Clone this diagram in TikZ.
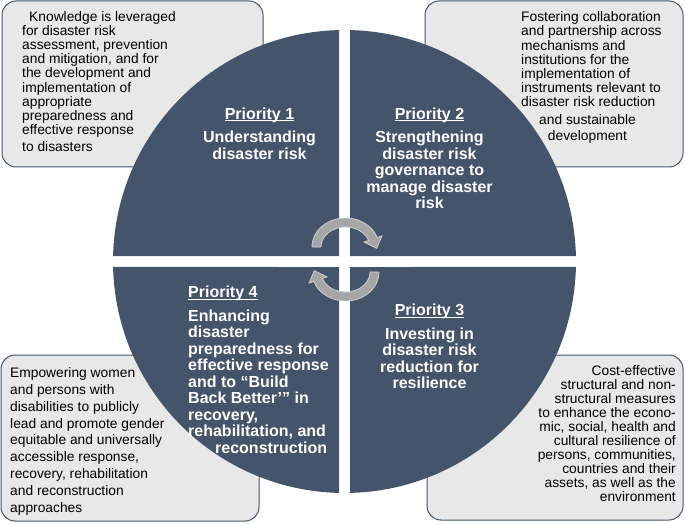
\documentclass[tikz,border=0pt]{standalone}
\usepackage{fontspec}
\setmainfont{Liberation Sans}
\usetikzlibrary{calc}
\definecolor{slate}{HTML}{44546A}
\definecolor{boxgray}{HTML}{E8E8E8}
\definecolor{arrowgray}{HTML}{A6A6A6}
\definecolor{arrowedge}{HTML}{D0D0D0}
\newsavebox\PrioBox
\newcommand\PrioUL[1]{\sbox\PrioBox{#1}\rlap{\rule[-2.2pt]{\wd\PrioBox}{1.3pt}}\usebox\PrioBox}
\newcommand\BoxStrut{\rule{0pt}{10pt}}
\newcommand\QStrut{\rule{0pt}{12pt}}
\begin{document}
\begin{tikzpicture}[x=1pt,y=1pt]
\tikzset{
 infobox/.style={rectangle, rounded corners=14pt, fill=boxgray, draw=slate, line width=1pt, minimum width=258pt, minimum height=166pt, inner sep=0pt},
 boxtext/.style={inner sep=0pt, text=black, font=\fontsize{13.8}{14.2}\selectfont},
 quad/.style={fill=slate},
 qtext/.style={inner sep=0pt, text=white, font=\bfseries\fontsize{16}{16.5}\selectfont},
 cyc/.style={fill=arrowgray, draw=arrowedge, line width=0.8pt}
}
\useasboundingbox (0,0) rectangle (685,523);

% info boxes
\node[infobox, minimum width=261pt] (b1) at (132.5,439) {};
\node[infobox] (b2) at (554,439) {};
\node[infobox] (b3) at (130,85) {};
\node[infobox, minimum width=256pt, minimum height=165pt] (b4) at (555,85.5) {};

% quadrants
\coordinate (O) at (344.5,261.5);
\fill[quad] ($(O)+(5.5,5.5)$) -- ($(O)+(88.6387:231.5)$) arc[start angle=88.6387, end angle=1.3613, radius=231.5] -- cycle;
\fill[quad] ($(O)+(-5.5,5.5)$) -- ($(O)+(91.3613:231.5)$) arc[start angle=91.3613, end angle=178.6387, radius=231.5] -- cycle;
\fill[quad] ($(O)+(-5.5,-5.5)$) -- ($(O)+(181.3613:231.5)$) arc[start angle=181.3613, end angle=268.6387, radius=231.5] -- cycle;
\fill[quad] ($(O)+(5.5,-5.5)$) -- ($(O)+(271.3613:231.5)$) arc[start angle=271.3613, end angle=358.6387, radius=231.5] -- cycle;

% cycle arrows
\begin{scope}[shift={(345.5,276)}]
\path[cyc] (-33.5,0) arc[start angle=180, end angle=19, x radius=33.5, y radius=29] -- (36.4,11.07) -- (31.2,-1.3) -- (18.44,4.89) -- (23.16,6.51) arc[start angle=19, end angle=180, x radius=24.5, y radius=20] -- cycle;
\end{scope}
\begin{scope}[shift={(345.5,251)}, rotate=180]
\path[cyc] (-33.5,0) arc[start angle=180, end angle=19, x radius=33.5, y radius=29] -- (36.4,11.07) -- (31.2,-1.3) -- (18.44,4.89) -- (23.16,6.51) arc[start angle=19, end angle=180, x radius=24.5, y radius=20] -- cycle;
\end{scope}

% box texts
\node[boxtext, anchor=north west, align=left] (t1) at (22,512) {\BoxStrut\hspace*{7pt}Knowledge is leveraged\\for disaster risk\\assessment, prevention\\and mitigation, and for\\the development and\\implementation of\\appropriate\\preparedness and\\effective response\\[2.4pt]to disasters};
\node[boxtext, anchor=north west, align=left] (t2a) at (521,511.5) {\BoxStrut Fostering collaboration\\and partnership across\\mechanisms and\\institutions for the\\implementation of\\instruments relevant to\\disaster risk reduction};
\node[boxtext, font=\fontsize{13.8}{16.7}\selectfont, anchor=north, align=center] (t2b) at (587.5,408.9) {\BoxStrut and sustainable\\development};
\node[boxtext, font=\fontsize{13.8}{16.9}\selectfont, anchor=north west, align=left] (t3) at (10,155.9) {\BoxStrut Empowering women\\and persons with\\disabilities to publicly\\lead and promote gender\\equitable and universally\\accessible response,\\recovery, rehabilitation\\and reconstruction\\approaches};
\node[boxtext, font=\fontsize{13.8}{14.1}\selectfont, anchor=north east, align=right] (t4) at (676,158.2) {\BoxStrut Cost-effective\\structural and non-\\structural measures\\to enhance the econo-\\mic, social, health and\\cultural resilience of\\persons, communities,\\countries and their\\assets, as well as the\\environment};

% quadrant texts
\node[qtext, anchor=north, align=center] (p1) at (259.5,416) {\QStrut\PrioUL{Priority 1}\\[7pt]Understanding\\disaster risk};
\node[qtext, anchor=north, align=center] (p2) at (429.5,416) {\QStrut\PrioUL{Priority 2}\\[7pt]Strengthening\\disaster risk\\governance to\\manage disaster\\risk};
\node[qtext, anchor=north, align=center] (p3) at (429.5,219.3) {\QStrut\PrioUL{Priority 3}\\[7pt]Investing in\\disaster risk\\reduction for\\resilience};
\node[qtext, anchor=north west, align=left] (p4) at (188,237.3) {\QStrut\PrioUL{Priority 4}\\[7pt]Enhancing\\disaster\\preparedness for\\effective response\\and to “Build\\Back Better’” in\\recovery,\\rehabilitation, and\\\hspace*{27pt}reconstruction};
\end{tikzpicture}
\end{document}
